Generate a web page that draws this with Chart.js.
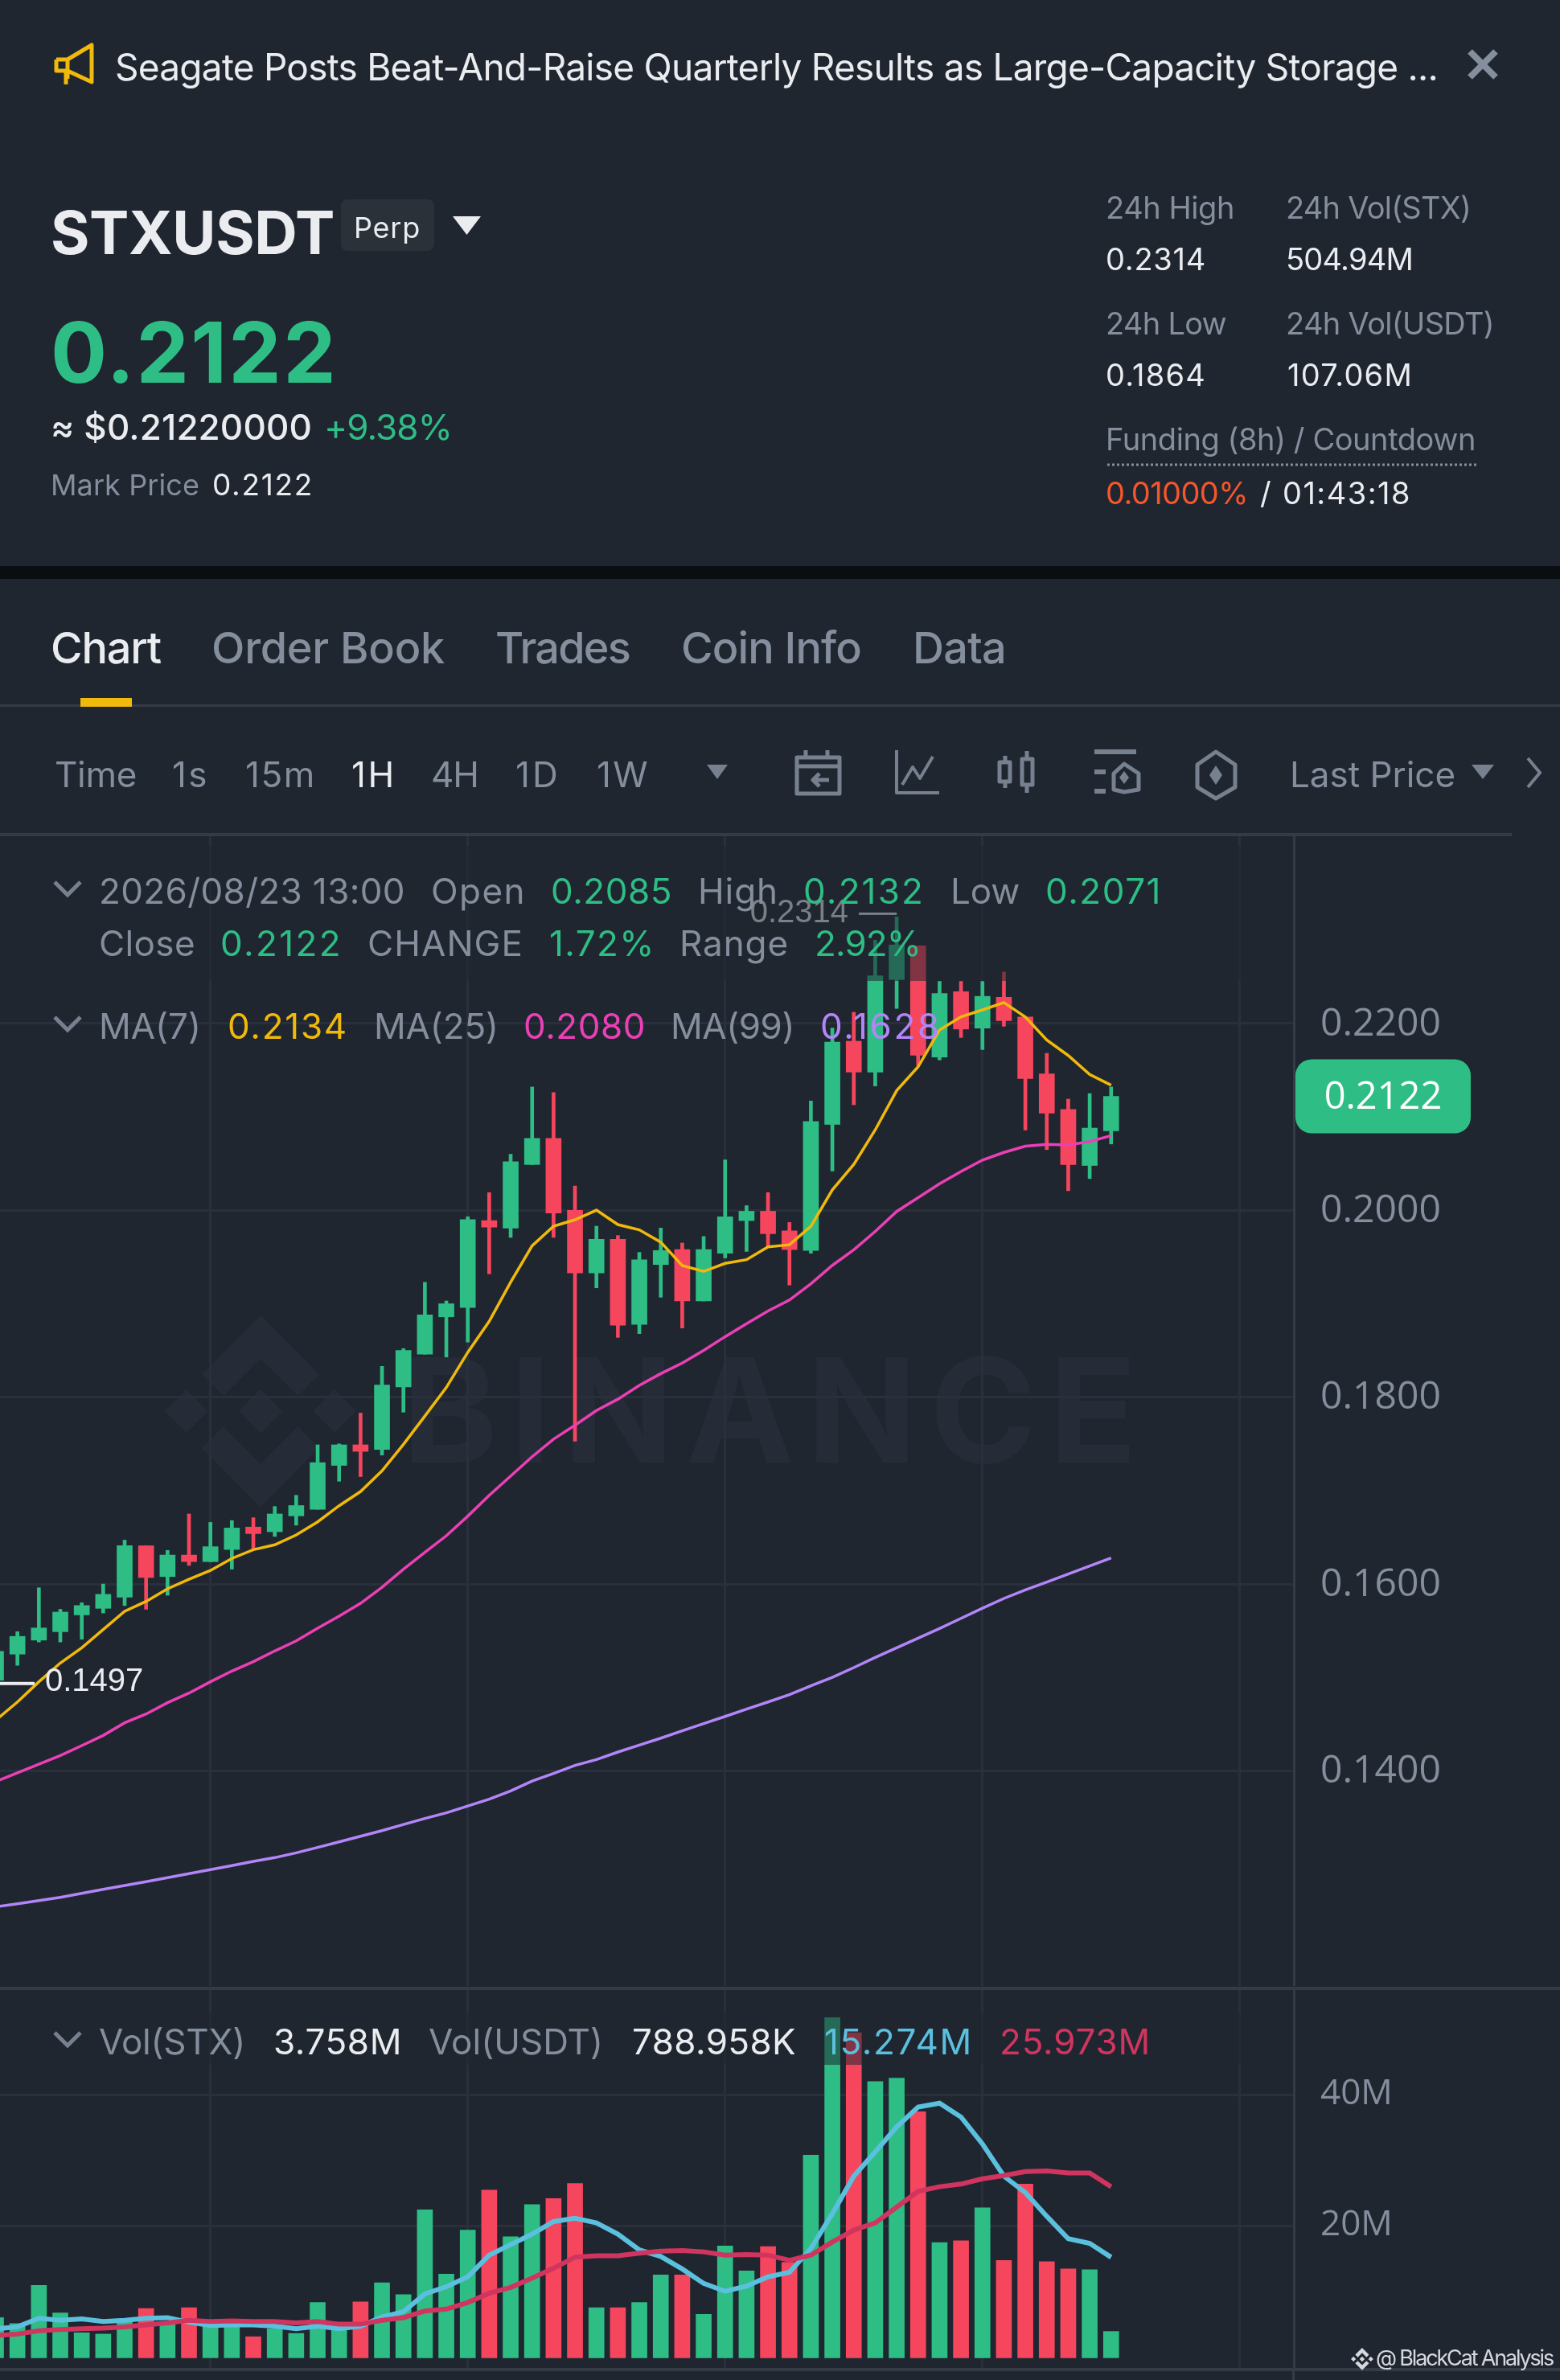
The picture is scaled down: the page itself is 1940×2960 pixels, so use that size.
<!DOCTYPE html>
<html lang="en">
<head>
    <meta charset="UTF-8">
    <title>STXUSDT Perp</title>
    <script src="https://cdn.jsdelivr.net/npm/chart.js@4"></script>
    <style>
        html, body {
            margin: 0;
            padding: 0;
            background: #1f2630;
        }
        #page {
            position: relative;
            width: 1940px;
            height: 2960px;
            overflow: hidden;
            background: #1f2630;
            font-family: Inter, sans-serif;
        }
        #page > canvas, #page > svg, .box {
            position: absolute;
        }
        .t {
            position: absolute;
            white-space: nowrap;
            line-height: 1;
        }
    </style>
</head>
<body>
<div id="page">
    <div class="t" style="left:500px;top:1664px;font-size:180px;font-weight:700;color:#262c37;letter-spacing:15.500px">BINANCE</div>
    <svg style="left:0;top:0" width="1940" height="2960">
        <path transform="translate(205,1636) scale(1.88)" fill="#262c37" d="M38.73 53.2L63.3 28.63l24.58 24.58 14.3-14.3L63.3 0 24.43 38.88l14.3 14.32zM0 63.31l14.3-14.31 14.31 14.31-14.31 14.3zM38.73 73.41L63.3 97.98l24.58-24.58 14.3 14.3L63.3 126.61 24.43 87.73l-.02-.02 14.32-14.3zM97.99 63.31l14.3-14.31 14.31 14.31-14.31 14.3zM77.83 63.3L63.3 48.78 52.52 59.56l-1.24 1.24-2.54 2.54 14.56 14.56 14.53-14.58z"/>
    </svg>

    <canvas id="priceChart" width="1940" height="1430" style="left:0;top:1040px"></canvas>
    <canvas id="volChart" width="1940" height="471" style="left:0;top:2475px"></canvas>

    <!-- legend rows dim whatever is under them -->
    <div class="box" style="left:0;top:1052px;width:1605px;height:168px;background:rgba(31,38,48,.55)"></div>
    <div class="box" style="left:0;top:2503px;width:1605px;height:65px;background:rgba(31,38,48,.55)"></div>

    <div class="box" style="left:0;top:704px;width:1940px;height:16px;background:#0b0e11"></div>
    <div class="box" style="left:0;top:876px;width:1940px;height:3px;background:#333b47"></div>
    <div class="box" style="left:100px;top:868px;width:64px;height:11px;background:#f0b90b"></div>
    <div class="box" style="left:0;top:1036px;width:1880px;height:4px;background:#333b47"></div>
    <div class="box" style="left:0;top:2471px;width:1940px;height:4px;background:#333b47"></div>
    <div class="box" style="left:0;top:2945px;width:1940px;height:4px;background:#333b47"></div>
    <div class="box" style="left:1607px;top:2949px;width:3px;height:11px;background:#333b47"></div>
    <div class="box" style="left:424px;top:248px;width:116px;height:64px;border-radius:8px;background:#2b3139"></div>

    <svg style="left:0;top:0" width="1940" height="2960" fill="none">
        <!-- megaphone -->
        <path d="M70 74h14v24M84 74l30-18v46l-30-14M70 74v14h14" stroke="#f0b90b" stroke-width="5" stroke-linejoin="round"/>
        <path d="M82 90v15" stroke="#f0b90b" stroke-width="5"/>
        <!-- close -->
        <path d="M1828 64l32 32M1860 64l-32 32" stroke="#848e9c" stroke-width="8"/>
        <path d="M563 269h35l-17.500 23z" fill="#eaecef"/>
        <path d="M1377 578h460" stroke="#848e9c" stroke-width="3" stroke-dasharray="3 3"/>
        <!-- toolbar -->
        <path d="M879 951h26l-13 18z" fill="#76808f"/>
        <g stroke="#76808f" stroke-width="5" stroke-linejoin="round">
            <path d="M991 942h53v45h-53zM991 953h53M1002 933v9M1029 933v9M1031 970h-20M1019 962l-8 8 8 8"/>
            <path d="M1115 933v53h53M1122 976l13-22 9 14 16-27" stroke-width="4"/>
            <path d="M1243 948h13v24h-13zM1250 940v8M1250 972v8M1271 944h13v32h-13zM1277 934v10M1277 976v10"/>
            <path d="M1361 935h52" stroke-width="6"/>
            <path d="M1361 960h14M1361 984h14" stroke-width="6"/>
            <path d="M1398 950l18 12v20l-18 3-13-3v-20z"/>
            <path d="M1512 935l24 16v28l-24 14-23-14v-28z"/>
        </g>
        <path d="M1398 959l6 8-6 8-6-8zM1512 952l8 12-8 12-8-12z" fill="#76808f"/>
        <path d="M1830 951h28l-14 18z" fill="#76808f"/>
        <path d="M1900 943l15 18-15 18" stroke="#76808f" stroke-width="4"/>
        <!-- legend chevrons -->
        <path d="M68 1097l16 16 16-16M68 1265l16 16 16-16M68 2528l16 16 16-16" stroke="#76808f" stroke-width="5"/>
        <!-- credit logo -->
        <path transform="translate(1680,2920) scale(.22)" fill="#d5d8dd" d="M38.73 53.2L63.3 28.63l24.58 24.58 14.3-14.3L63.3 0 24.43 38.88l14.3 14.32zM0 63.31l14.3-14.31 14.31 14.31-14.31 14.3zM38.73 73.41L63.3 97.98l24.58-24.58 14.3 14.3L63.3 126.61 24.43 87.73l-.02-.02 14.32-14.3zM97.99 63.31l14.3-14.31 14.31 14.31-14.31 14.3zM77.83 63.3L63.3 48.78 52.52 59.56l-1.24 1.24-2.54 2.54 14.56 14.56 14.53-14.58z"/>
    </svg>
</div>

<script>
    // one entry per hourly candle, oldest first
    const opens = [0.1497,0.1525,0.1540,0.1549,0.1567,0.1574,0.1586,0.1641,0.1608,0.1631,0.1624,0.1637,0.1661,0.1656,0.1673,0.1680,0.1727,0.1749,0.1744,0.1811,0.1846,0.1886,0.1896,0.1989,0.1981,0.2049,0.2077,0.2000,0.1933,0.1969,0.1878,0.1942,0.1958,0.1903,0.1954,0.1989,0.1999,0.1978,0.1957,0.2092,0.2181,0.2148,0.2247,0.2283,0.2164,0.2234,0.2195,0.2228,0.2207,0.2146,0.2108,0.2048,0.2085];
    const highs = [0.1530,0.1549,0.1596,0.1573,0.1580,0.1600,0.1647,0.1641,0.1636,0.1675,0.1666,0.1668,0.1671,0.1683,0.1695,0.1749,0.1750,0.1783,0.1833,0.1852,0.1923,0.1903,0.1993,0.2019,0.2060,0.2132,0.2126,0.2026,0.1983,0.1973,0.1955,0.1981,0.1965,0.1972,0.2054,0.2005,0.2019,0.1987,0.2117,0.2195,0.2212,0.2289,0.2314,0.2283,0.2245,0.2245,0.2245,0.2255,0.2207,0.2168,0.2119,0.2125,0.2132];
    const lows = [0.1497,0.1513,0.1538,0.1538,0.1541,0.1569,0.1577,0.1573,0.1588,0.1620,0.1624,0.1616,0.1637,0.1651,0.1663,0.1680,0.1710,0.1715,0.1738,0.1784,0.1846,0.1843,0.1859,0.1932,0.1971,0.2049,0.1971,0.1753,0.1917,0.1864,0.1868,0.1907,0.1874,0.1903,0.1949,0.1956,0.1961,0.1920,0.1954,0.2042,0.2113,0.2133,0.2216,0.2155,0.2161,0.2185,0.2172,0.2197,0.2086,0.2065,0.2021,0.2034,0.2071];
    const closes = [0.1528,0.1544,0.1553,0.1570,0.1577,0.1589,0.1641,0.1607,0.1631,0.1624,0.1640,0.1660,0.1654,0.1675,0.1684,0.1730,0.1749,0.1742,0.1813,0.1850,0.1888,0.1900,0.1990,0.1982,0.2052,0.2077,0.1997,0.1933,0.1969,0.1877,0.1947,0.1957,0.1903,0.1958,0.1993,0.1999,0.1975,0.1958,0.2095,0.2180,0.2148,0.2251,0.2284,0.2166,0.2232,0.2194,0.2229,0.2203,0.2141,0.2104,0.2049,0.2088,0.2122];
    const ma7 = [0.14544,0.14738,0.14954,0.15155,0.15318,0.15513,0.15708,0.15814,0.15949,0.16052,0.16145,0.16274,0.16368,0.1642,0.16526,0.16666,0.16838,0.1699,0.17212,0.17495,0.17798,0.18104,0.1848,0.18812,0.19231,0.1962,0.1983,0.19899,0.20002,0.19847,0.19791,0.19659,0.19409,0.19346,0.19432,0.19472,0.19609,0.19631,0.1983,0.20219,0.20491,0.20861,0.21282,0.21536,0.21931,0.22072,0.22145,0.22224,0.2207,0.21823,0.21657,0.21454,0.2134];
    const ma25 = [0.13886,0.13979,0.14073,0.14165,0.14271,0.1438,0.14515,0.14609,0.1473,0.14833,0.14954,0.15069,0.15169,0.15284,0.15392,0.15528,0.15657,0.15794,0.15966,0.16158,0.16339,0.16517,0.16727,0.1695,0.17156,0.17363,0.17551,0.177,0.17857,0.17979,0.18127,0.18252,0.18365,0.185,0.18648,0.18787,0.18923,0.1904,0.19214,0.19411,0.19577,0.19774,0.19988,0.20136,0.20284,0.20416,0.20538,0.2062,0.20686,0.20706,0.207,0.20736,0.2080];
    const ma99 = [0.12547,0.12578,0.12613,0.12647,0.1269,0.12733,0.12773,0.12814,0.12857,0.129,0.12943,0.12986,0.13032,0.13072,0.13123,0.13181,0.13241,0.13301,0.13361,0.13427,0.13491,0.13551,0.13625,0.13697,0.13786,0.13892,0.13973,0.14059,0.14122,0.14202,0.14277,0.14351,0.14429,0.14506,0.14583,0.14661,0.14738,0.14816,0.14911,0.15002,0.15106,0.15215,0.15318,0.15421,0.15524,0.15633,0.15742,0.15846,0.15937,0.16021,0.16107,0.16193,0.1628];
    // volume in millions of STX
    const volume = [6.1,5.2,11.0,6.8,3.8,3.6,5.4,7.5,5.2,7.6,5.0,5.0,3.2,4.4,3.7,8.4,5.2,8.5,11.4,9.6,22.5,12.7,19.4,25.5,18.4,23.3,24.2,26.5,7.6,7.6,8.4,12.6,12.6,6.6,17.0,13.2,16.9,14.5,30.8,51.7,49.4,42.0,42.5,37.4,17.5,17.8,22.8,14.8,26.4,14.6,13.5,13.4,4.0];
    const volMa7 = [4.4,4.7,6.0,5.7,5.9,5.5,5.7,6.0,6.1,5.4,4.9,5.0,5.0,4.8,4.4,4.8,4.4,4.8,6.2,7.0,9.7,10.8,12.3,15.6,17.2,18.8,20.7,21.2,20.5,18.8,16.4,15.4,13.5,11.3,10.1,10.9,12.3,13.0,16.6,21.9,27.6,31.3,35.1,38.1,38.7,36.6,32.5,27.6,25.1,21.5,18.1,17.4,15.274];
    const volMa25 = [3.4,3.6,4.1,4.3,4.4,4.5,4.7,5.0,5.3,5.7,5.5,5.6,5.5,5.5,5.3,5.5,5.1,5.1,5.7,6.1,7.1,7.4,8.4,9.8,10.7,12.1,13.6,15.3,15.5,15.5,15.9,16.2,16.3,16.1,15.6,15.7,15.6,14.8,15.6,17.6,19.4,20.5,22.9,25.3,26.0,26.4,27.2,27.7,28.3,28.4,28.1,28.1,25.973];

    const priceTicks = [0.14, 0.16, 0.18, 0.20, 0.22];
    const volTicks = [20, 40];
    const gridSlots = [10, 22, 34, 46, 58];
    const lastPrice = 0.2122;
    const highLabel = 0.2314;
    const lowLabel = 0.1497;

    const GREEN = '#2ebd85', RED = '#f6465d', GRID = '#2a303b', AXIS = '#333b47', MUTED = '#848e9c';
    const upDown = opens.map((o, i) => closes[i] >= o ? GREEN : RED);
    const line = (arr, color, width, order) => ({
        type: 'line',
        data: arr.map((y, x) => ({x, y})),
        borderColor: color,
        borderWidth: width,
        pointRadius: 0,
        tension: 0,
        order
    });
    const bars = (pairs, width, order) => ({
        type: 'bar',
        data: pairs,
        backgroundColor: upDown,
        barThickness: width,
        grouped: false,
        order
    });

    // x axis shared by both panels: one candle slot is 26.67px
    const xAxis = {
        type: 'linear',
        min: 0.1875,
        max: 60.52,
        offset: false,
        border: {display: false},
        // bar charts turn grid offset on by default, that moves the lines half a step
        grid: {color: GRID, lineWidth: 3, drawTicks: false, offset: false},
        ticks: {display: false},
        afterBuildTicks: axis => { axis.ticks = gridSlots.map(value => ({value})); },
        afterFit: axis => { axis.height = 0; }
    };
    const yAxis = (min, max, tickVals, format, size, labelOffset) => ({
        position: 'right',
        min, max,
        border: {color: AXIS, width: 3},
        grid: {color: GRID, lineWidth: 3, drawTicks: false},
        ticks: {
            color: MUTED,
            padding: 33,
            labelOffset,
            font: {family: 'Open Sans', size},
            callback: format
        },
        afterBuildTicks: axis => { axis.ticks = tickVals.map(value => ({value})); },
        afterFit: axis => {
            axis.width = 331;
            // labels never reach the panel edges, keep the plot full height
            axis.paddingTop = 0;
            axis.paddingBottom = 0;
        }
    });
    const baseOptions = {
        responsive: false,
        animation: false,
        devicePixelRatio: 1,
        layout: {padding: 0},
        plugins: {legend: {display: false}, tooltip: {enabled: false}}
    };

    // high / low tags and the last price badge sit on the price scale
    const priceMarks = {
        id: 'priceMarks',
        afterDraw(chart) {
            const {ctx, scales: {x, y}} = chart;
            ctx.save();
            ctx.fillStyle = '#eaecef';
            ctx.font = '40px "Liberation Sans"';
            ctx.textBaseline = 'middle';
            const hx = x.getPixelForValue(highs.indexOf(highLabel));
            const hy = y.getPixelForValue(highLabel) - 4;
            ctx.fillRect(hx - 47, hy - 1.5, 47, 3);
            ctx.textAlign = 'right';
            ctx.fillText(highLabel.toFixed(4), hx - 60, hy);
            const ly = y.getPixelForValue(lowLabel) + 4;
            ctx.fillRect(0, ly - 2, 43, 4);
            ctx.textAlign = 'left';
            ctx.fillText(lowLabel.toFixed(4), 56, ly - 2);

            const by = y.getPixelForValue(lastPrice);
            ctx.fillStyle = GREEN;
            ctx.beginPath();
            ctx.roundRect(1611, by - 46, 218, 92, 20);
            ctx.fill();
            ctx.fillStyle = '#ffffff';
            ctx.textAlign = 'center';
            ctx.font = '47px "Open Sans"';
            ctx.fillText(lastPrice.toFixed(4), 1720, by + 2);
            ctx.restore();
        }
    };

    new Chart(document.getElementById('priceChart'), {
        data: {
            datasets: [
                bars(highs.map((h, x) => ({x, y: [lows[x], h]})), 4, 5),
                bars(opens.map((o, x) => ({x, y: [o, closes[x]]})), 19, 4),
                line(ma99, '#b385f8', 3.500, 3),
                line(ma25, '#eb40b5', 3.500, 2),
                line(ma7, '#f0b90b', 3.500, 1)
            ]
        },
        options: {
            ...baseOptions,
            scales: {
                x: xAxis,
                y: yAxis(0.11698, 0.24004, priceTicks, v => v.toFixed(4), 48, 1)
            }
        },
        plugins: [priceMarks]
    });

    new Chart(document.getElementById('volChart'), {
        data: {
            datasets: [
                bars(volume.map((y, x) => ({x, y})), 19, 3),
                line(volMa7, '#5bc0de', 6, 2),
                line(volMa25, '#d0355f', 6, 1)
            ]
        },
        options: {
            ...baseOptions,
            scales: {
                x: xAxis,
                y: yAxis(-1.67, 55.9, volTicks, v => v + 'M', 44, -1)
            }
        }
    });

    // text, x start, x end, baseline, size, colour, weight
    const WHITE = '#eaecef', YEL = '#f0b90b', PINK = '#eb40b5', PURPLE = '#b385f8', TOOL = '#848e9c';
    const texts = [
        ['Seagate Posts Beat-And-Raise Quarterly Results as Large-Capacity Storage ...', 145, 1788, 100, 46, WHITE, 400],
        ['STXUSDT', 65, 416, 316, 74, WHITE, 700],
        ['Perp', 442, 523, 296, 36, WHITE, 400],
        ['0.2122', 65, 420, 476, 104, GREEN, 700],
        ['≈ $0.21220000', 65, 388, 547, 44, WHITE, 500],
        ['+9.38%', 405, 562, 547, 44, GREEN, 400],
        ['Mark Price', 65, 248, 616, 36, MUTED, 400],
        ['0.2122', 266, 390, 616, 37, WHITE, 400],
        ['24h High', 1377, 1535, 272, 38, MUTED, 400],
        ['24h Vol(STX)', 1601, 1829, 272, 38, MUTED, 400],
        ['0.2314', 1377, 1500, 336, 38, WHITE, 400],
        ['504.94M', 1601, 1757, 336, 38, WHITE, 400],
        ['24h Low', 1377, 1525, 416, 38, MUTED, 400],
        ['24h Vol(USDT)', 1601, 1858, 416, 38, MUTED, 400],
        ['0.1864', 1377, 1500, 480, 38, WHITE, 400],
        ['107.06M', 1603, 1757, 480, 38, WHITE, 400],
        ['Funding (8h) / Countdown', 1377, 1835, 560, 38, MUTED, 400],
        ['0.01000%', 1377, 1552, 627, 38, '#f6562b', 400],
        ['/', 1569, 1581, 627, 38, WHITE, 400],
        ['01:43:18', 1597, 1755, 627, 38, WHITE, 400],
        ['Chart', 65, 200, 826, 54, WHITE, 500],
        ['Order Book', 265, 553, 826, 54, MUTED, 500],
        ['Trades', 618, 783, 826, 54, MUTED, 500],
        ['Coin Info', 849, 1071, 826, 54, MUTED, 500],
        ['Data', 1137, 1251, 826, 54, MUTED, 500],
        ['Time', 70, 170, 979, 44, TOOL, 400],
        ['1s', 216, 260, 979, 44, TOOL, 400],
        ['15m', 307, 393, 979, 44, TOOL, 400],
        ['1H', 439, 493, 979, 44, WHITE, 400],
        ['4H', 538, 595, 979, 44, TOOL, 400],
        ['1D', 643, 697, 979, 44, TOOL, 400],
        ['1W', 744, 808, 979, 44, TOOL, 400],
        ['Last Price', 1606, 1810, 979, 44, TOOL, 400],
        ['2026/08/23 13:00', 125, 504, 1124, 44, MUTED, 400],
        ['Open', 538, 654, 1124, 44, MUTED, 400],
        ['0.2085', 687, 836, 1124, 44, GREEN, 400],
        ['High', 870, 968, 1124, 44, MUTED, 400],
        ['0.2132', 1001, 1150, 1124, 44, GREEN, 400],
        ['Low', 1184, 1268, 1124, 44, MUTED, 400],
        ['0.2071', 1302, 1445, 1124, 44, GREEN, 400],
        ['Close', 125, 243, 1189, 44, MUTED, 400],
        ['0.2122', 276, 426, 1189, 44, GREEN, 400],
        ['CHANGE', 459, 651, 1189, 44, MUTED, 400],
        ['1.72%', 685, 815, 1189, 44, GREEN, 400],
        ['Range', 847, 981, 1189, 44, MUTED, 400],
        ['2.92%', 1015, 1145, 1189, 44, GREEN, 400],
        ['MA(7)', 125, 250, 1292, 44, MUTED, 400],
        ['0.2134', 285, 433, 1292, 44, YEL, 400],
        ['MA(25)', 467, 620, 1292, 44, MUTED, 400],
        ['0.2080', 653, 803, 1292, 44, PINK, 400],
        ['MA(99)', 836, 988, 1292, 44, MUTED, 400],
        ['0.1628', 1022, 1171, 1292, 44, PURPLE, 400],
        ['Vol(STX)', 125, 305, 2555, 44, MUTED, 400],
        ['3.758M', 342, 500, 2555, 44, WHITE, 400],
        ['Vol(USDT)', 535, 750, 2555, 44, MUTED, 400],
        ['788.958K', 788, 990, 2555, 44, WHITE, 400],
        ['15.274M', 1027, 1210, 2555, 44, '#5bc0de', 400],
        ['25.973M', 1245, 1431, 2555, 44, '#d0355f', 400],
        ['@ BlackCat Analysis', 1713, 1931, 2942, 27, '#d5d8dd', 400]
    ];
    const page = document.getElementById('page');
    texts.forEach(([text, x0, x1, base, size, color, weight]) => {
        const el = document.createElement('div');
        el.className = 't';
        el.textContent = text;
        // glyph side bearing pushes the ink a little right of the box
        el.style.cssText = `left:${x0 - 2}px;top:${base - size * 0.864}px;font-size:${size}px;color:${color};font-weight:${weight}`;
        page.appendChild(el);
        // squeeze each string to the width it has in the reference
        const extra = (x1 - x0 + 2) - el.getBoundingClientRect().width;
        el.style.letterSpacing = (extra / text.length) + 'px';
    });
</script>
</body>
</html>
